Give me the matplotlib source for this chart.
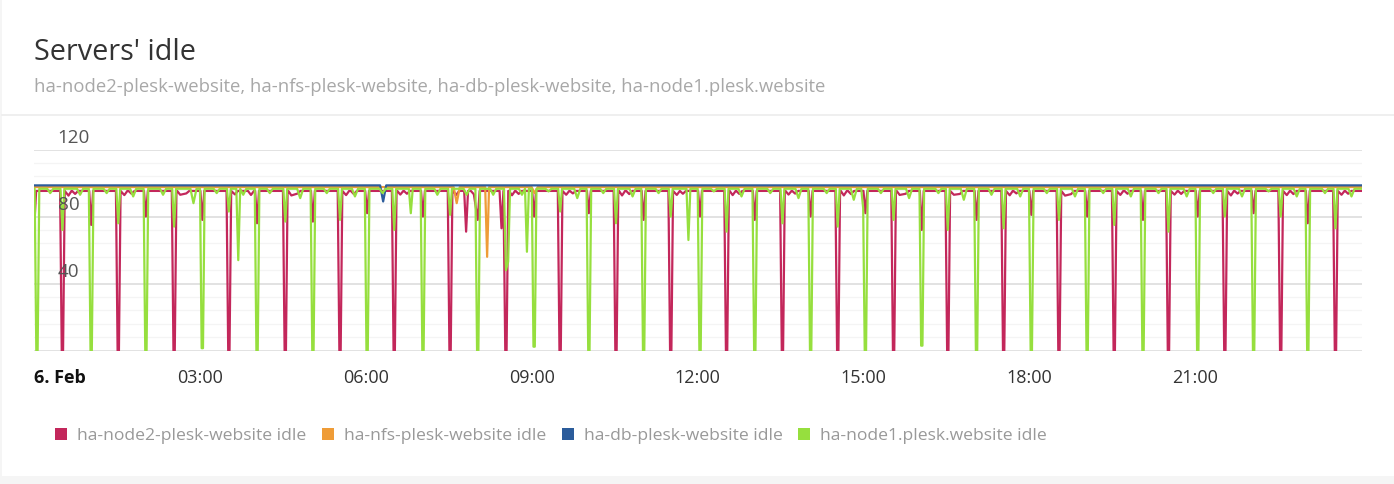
import matplotlib
matplotlib.use("Agg")
import matplotlib.pyplot as plt
from matplotlib.patches import Rectangle, Patch
from matplotlib.lines import Line2D

plt.rcParams['font.family'] = ['Open Sans', 'DejaVu Sans']

# ---------------- data (hours after 6 Feb 00:00, idle %) ----------------
title = "Servers' idle"
subtitle = "ha-node2-plesk-website, ha-nfs-plesk-website, ha-db-plesk-website, ha-node1.plesk.website"
series_names = ["ha-node2-plesk-website idle", "ha-nfs-plesk-website idle",
                "ha-db-plesk-website idle", "ha-node1.plesk.website idle"]
series_colors = ["#c3275b", "#ef9c37", "#2b5c9b", "#96df3e"]

tick_hours = [0, 3, 6, 9, 12, 15, 18, 21]
tick_labels = ["6. Feb", "03:00", "06:00", "09:00", "12:00", "15:00", "18:00", "21:00"]
y_label_values = [40, 80, 120]

# ha-node2 (red)
node2_base = 95.3
node2_spike_t = [0.51, 1.52, 2.53, 3.52, 4.54, 5.53, 6.51, 7.52, 8.53, 9.51, 10.52, 11.51,
                 12.52, 13.53, 14.53, 15.54, 16.52, 17.53, 18.53, 19.53, 20.51, 21.53, 22.54, 23.53]
node2_spike_v = [0, 0, 0, 0, 0, 0, 0, 0, 0, 0, 0, 0,
                 0, 0, 0, 0, 0, 0, 0, 0, 0, 0, 0, 0]
node2_dip_t = [0.0, 1.03, 2.02, 3.04, 4.03, 5.04, 6.02, 7.03, 8.02, 9.04, 10.03, 11.02,
               12.04, 13.03, 14.04, 15.03, 16.05, 17.04, 18.03, 19.04, 20.05, 21.04, 22.05, 23.03,
               7.81, 8.45]
node2_dip_v = [73, 75, 80, 78, 76, 77, 82, 80, 78, 80, 82, 78,
               80, 78, 80, 82, 72, 78, 81, 80, 78, 80, 82, 76,
               71, 73]
node2_small_t = [0.62, 0.74, 1.63, 1.76, 2.64, 2.75, 3.63, 3.92, 4.65, 4.76, 5.64, 5.78,
                 6.62, 6.74, 7.63, 7.95, 8.64, 8.76, 9.62, 9.74, 10.63, 10.76, 11.62, 11.73,
                 12.63, 12.75, 13.64, 13.76, 14.64, 14.77, 15.65, 15.76, 16.63, 16.74, 17.64, 17.76,
                 18.64, 18.75, 19.64, 19.77, 20.62, 20.74, 21.64, 21.76, 22.65, 22.77, 23.64, 23.76]
node2_small_v = [92.5, 93.5, 92.8, 93.6, 93.0, 93.8, 93.2, 92.9, 92.6, 93.7, 92.8, 93.4,
                 93.1, 93.6, 92.9, 93.3, 92.7, 93.5, 93.0, 93.8, 92.6, 93.4, 92.9, 93.6,
                 92.8, 93.5, 93.1, 93.7, 92.6, 93.4, 92.9, 93.6, 93.0, 93.5, 92.7, 93.8,
                 92.5, 93.4, 92.9, 93.6, 93.1, 93.5, 92.6, 93.7, 92.8, 93.4, 93.0, 93.6]

# ha-nfs (orange)
nfs_base = 97.6
nfs_dip_t = [7.64, 8.19, 9.05]
nfs_dip_v = [88, 56, 94]

# ha-db (blue)
db_base = 98.6
db_dip_t = [6.31]
db_dip_v = [89]

# ha-node1 (green)
node1_base = 96.6
node1_spike_t = [0.05, 1.03, 2.02, 3.04, 4.03, 5.04, 6.02, 7.03, 8.02, 9.04, 10.03, 11.02,
                 12.04, 13.03, 14.04, 15.03, 16.05, 17.04, 18.03, 19.04, 20.05, 21.04, 22.05, 23.03]
node1_spike_v = [0, 0, 0, 1.5, 0, 0, 0, 0, 0, 2.4, 0, 0,
                 0, 0, 0, 0, 3, 0, 0, 0, 0, 0, 0, 0]
node1_dip_t = [0.51, 1.52, 2.53, 3.52, 4.54, 5.53, 6.51, 7.52, 8.53, 9.51, 10.52, 11.51,
               12.52, 13.53, 14.53, 15.54, 16.52, 17.53, 18.53, 19.53, 20.51, 21.53, 22.54, 23.53,
               3.69, 6.81, 8.57, 8.91, 11.83, 14.99]
node1_dip_v = [72, 76, 74, 83, 77, 78, 72, 81, 48, 83, 76, 80,
               71, 76, 74, 78, 72, 73, 78, 75, 71, 80, 80, 73,
               54, 82, 53, 59, 66, 85]
node1_small_t = [0.29, 0.83, 1.31, 1.79, 2.33, 2.88, 3.30, 3.78, 4.26, 4.81, 5.29, 5.80,
                 6.30, 7.29, 7.82, 8.30, 8.82, 9.30, 9.82, 10.29, 10.82, 11.29,
                 12.29, 12.79, 13.31, 13.82, 14.33, 14.82, 15.31, 15.82, 16.35, 16.81, 17.31, 17.83,
                 18.31, 18.82, 19.33, 19.83, 20.33, 20.84, 21.32, 21.84, 22.32, 22.83, 23.34, 23.82]
node1_small_v = [94, 93, 94, 92, 93, 88, 94, 93, 94, 91, 94, 92,
                 94, 93, 93, 93, 93, 95, 91, 94, 92, 94,
                 95, 92, 94, 91, 94, 90, 94, 91, 94, 90, 93, 92,
                 94, 92, 94, 92, 94, 92, 94, 92, 95, 92, 94, 92]

x_end = 24.01


def dip_shape(v):
    # (shoulder half-width, flat-bottom half-width) in hours, chosen for appearance
    if v < 20:
        return 0.042, 0.012
    if v < 60:
        return 0.035, 0.0
    if v < 88:
        return 0.035, 0.0
    return 0.055, 0.0


def build_series(base, t_lists, v_lists):
    ev = sorted((t, v) for tl, vl in zip(t_lists, v_lists) for t, v in zip(tl, vl))
    xs, ys = [-0.2], [base]
    n = len(ev)
    for i, (t, v) in enumerate(ev):
        hw, fw = dip_shape(v)
        prev_t = ev[i - 1][0] if i > 0 else -10
        next_t = ev[i + 1][0] if i < n - 1 else 100
        if t - prev_t > 2 * hw:
            xs.append(t - hw); ys.append(base)
        if fw > 0:
            xs += [t - fw, t + fw]; ys += [v, v]
        else:
            xs.append(t); ys.append(v)
        if next_t - t > 2 * hw:
            xs.append(t + hw); ys.append(base)
    xs.append(x_end + 0.2); ys.append(base)
    return xs, ys


W, H = 1394, 484
fig = plt.figure(figsize=(W / 100, H / 100), dpi=100, facecolor="white")


def fx(px):
    return px / W


def fy(py):
    return 1 - py / H


# card background strips and header separator
fig.patches.append(Rectangle((0, 0), fx(2), 1, transform=fig.transFigure,
                             facecolor="#f5f5f5", edgecolor="none", zorder=0))
fig.patches.append(Rectangle((0, 0), 1, 8 / H, transform=fig.transFigure,
                             facecolor="#f5f5f5", edgecolor="none", zorder=0))
fig.lines.append(Line2D([fx(2), 1], [fy(114.7), fy(114.7)], transform=fig.transFigure,
                       color="#ebebeb", lw=1.1))

fig.text(fx(34.5), fy(60), title, fontsize=20.7, color="#333333", va="baseline", ha="left")
fig.text(fx(34.5), fy(92.5), subtitle, fontsize=13.3, color="#a8a8a8", va="baseline", ha="left")

ax = fig.add_axes([fx(34.2), fy(350.7), fx(1362 - 34.2), (350.7 - 149.5) / H])
ax.set_xlim(0, x_end)
ax.set_ylim(0, 120)
for s in ax.spines.values():
    s.set_visible(False)
ax.set_facecolor("none")

ax.set_yticks([0, 40, 80, 120])
ax.set_yticks(list(range(0, 121, 8)), minor=True)
ax.grid(which="minor", axis="y", color="#f4f4f4", lw=0.9)
ax.grid(which="major", axis="y", color="#e2e2e2", lw=1.4)
ax.set_axisbelow(True)
ax.tick_params(axis="y", which="both", length=0, labelleft=False)

for v in y_label_values:
    ax.annotate(str(v), xy=(0, v), xycoords=("axes fraction", "data"),
                xytext=(23.5 * 0.72, 11.5 * 0.72), textcoords="offset points",
                ha="left", va="center", fontsize=13.6, color="#555555", zorder=10)

ax.set_xticks(tick_hours, tick_labels)
ax.tick_params(axis="x", length=0, pad=13, labelsize=13, labelcolor="#333333")
first = ax.get_xticklabels()[0]
first.set_horizontalalignment("left")
first.set_fontweight("bold")
first.set_color("#111111")

lw = 1.6
xs, ys = build_series(node2_base, [node2_spike_t, node2_dip_t, node2_small_t],
                      [node2_spike_v, node2_dip_v, node2_small_v])
ax.plot(xs, ys, color=series_colors[0], lw=lw, zorder=3, solid_joinstyle="round")
xs, ys = build_series(nfs_base, [nfs_dip_t], [nfs_dip_v])
ax.plot(xs, ys, color=series_colors[1], lw=lw, zorder=4, solid_joinstyle="round")
xs, ys = build_series(db_base, [db_dip_t], [db_dip_v])
ax.plot(xs, ys, color=series_colors[2], lw=lw, zorder=5, solid_joinstyle="round")
xs, ys = build_series(node1_base, [node1_spike_t, node1_dip_t, node1_small_t],
                      [node1_spike_v, node1_dip_v, node1_small_v])
ax.plot(xs, ys, color=series_colors[3], lw=lw, zorder=6, solid_joinstyle="round")

handles = [Patch(facecolor=c, edgecolor="none", label=n) for c, n in zip(series_colors, series_names)]
fig.legend(handles=handles, loc="upper left", bbox_to_anchor=(fx(55), fy(428)), ncol=4,
           frameon=False, fontsize=12.6, handlelength=0.68, handleheight=0.68,
           handletextpad=0.57, columnspacing=0.9, borderpad=0, borderaxespad=0,
           labelcolor="#999999")

fig.savefig("out.png", dpi=100, facecolor="white")
